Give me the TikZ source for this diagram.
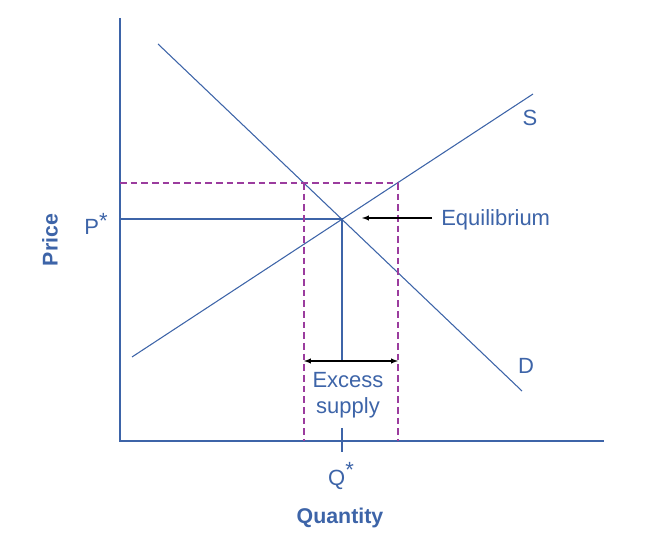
\documentclass[tikz,border=0pt]{standalone}
\usepackage{fontspec}
\setmainfont{Liberation Sans}
\definecolor{eb}{HTML}{3D64A8}
\definecolor{ep}{HTML}{9B3C9E}
\begin{document}
\begin{tikzpicture}[x=0.75pt,y=-0.75pt,
  ln/.style={draw=eb,line width=0.8pt},
  dsh/.style={draw=ep,line width=0.8pt,dash pattern=on 5pt off 3pt},
  lbl/.style={text=eb,font=\fontsize{16.5}{20}\selectfont,inner sep=0pt},
  ax/.style={text=eb,font=\bfseries\fontsize{16}{19}\selectfont,inner sep=0pt}]
\useasboundingbox (0,0) rectangle (650,541);
\coordinate (o) at (120,441); \coordinate (ytop) at (120,18); \coordinate (xend) at (604,441);
\draw[ln] (ytop) -- (o) -- (xend);
\coordinate (d1) at (158,44); \coordinate (d2) at (522,391);
\coordinate (s1) at (132,357); \coordinate (s2) at (533,94);
\draw[ln] (d1) -- (d2);
\draw[ln] (s1) -- (s2);
\coordinate (e) at (342,219);
\coordinate (py) at (120,219); \coordinate (eb) at (342,362);
\draw[ln] (py) -- (e) -- (eb);
\coordinate (t1) at (342,428); \coordinate (t2) at (342,452);
\draw[ln] (t1) -- (t2);
\coordinate (h0) at (120,183); \coordinate (hl) at (304,183); \coordinate (hr) at (398,183);
\coordinate (bl) at (304,441); \coordinate (br) at (398,441);
\draw[dsh] (h0) -- (hr);
\draw[dsh] (hl) -- (bl);
\draw[dsh] (hr) -- (br);
\coordinate (al) at (304,361); \coordinate (ar) at (398,361);
\draw[draw=black,line width=0.8pt,<->,>=latex] (al) -- (ar);
\coordinate (q1) at (432,218); \coordinate (q2) at (362,218);
\draw[draw=black,line width=0.8pt,->,>=latex] (q1) -- (q2);
\node[lbl,anchor=west] (eq) at (441,220) {Equilibrium};
\node[lbl] (S) at (530,118) {S};
\node[lbl] (D) at (526,366) {D};
\node[lbl] (P) at (96,224) {P\raisebox{0.55ex}{*}};
\node[lbl] (Q) at (341,476) {Q\raisebox{0.75ex}{*}};
\node[lbl,align=center,font=\fontsize{16.5}{19.5}\selectfont] (ex) at (348,395) {Excess\\supply};
\node[ax,rotate=90] (pr) at (50,240) {Price};
\node[ax] (qt) at (340,518) {Quantity};
\end{tikzpicture}
\end{document}
